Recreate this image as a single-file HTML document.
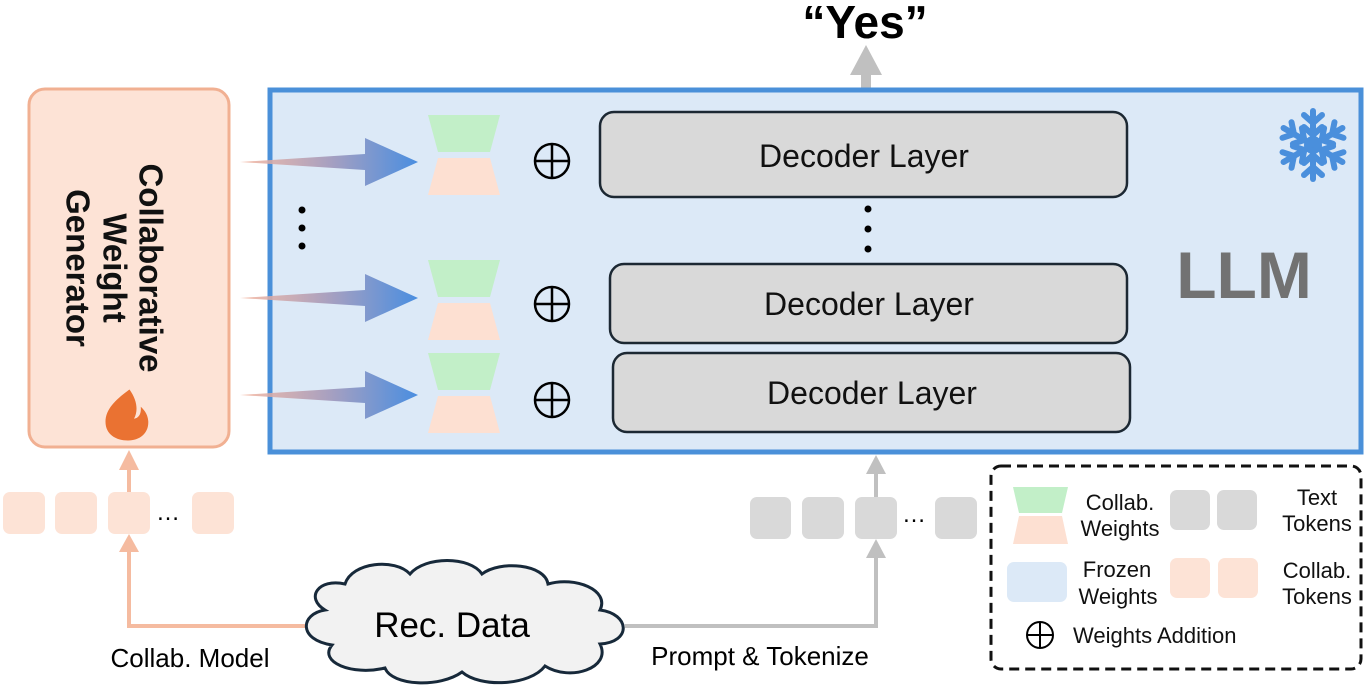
<!DOCTYPE html>
<html><head><meta charset="utf-8"><style>
html,body{margin:0;padding:0;background:#fff;}
svg{display:block;font-family:"Liberation Sans",sans-serif;}
</style></head><body>
<svg width="1367" height="688" viewBox="0 0 1367 688" xmlns="http://www.w3.org/2000/svg">
<defs>
<linearGradient id="ag" x1="0" x2="1" y1="0" y2="0">
<stop offset="0" stop-color="#f4b199" stop-opacity="0.8"/>
<stop offset="0.5" stop-color="#a8a0c0"/>
<stop offset="1" stop-color="#4a8ee0"/>
</linearGradient>
<g id="arrow"><path d="M240 0 L365 -8 L365 -24 L418 0 L365 24 L365 8 Z" fill="url(#ag)"/></g>
<g id="hg"><path d="M428 -40 L500 -40 L490 -3 L438 -3 Z" fill="#c2efc8"/><path d="M438 3 L490 3 L500 40 L428 40 Z" fill="#fde0d2"/></g>
<g id="op"><circle cx="0" cy="0" r="17" fill="none" stroke="#000" stroke-width="2.5"/><line x1="-17" y1="0" x2="17" y2="0" stroke="#000" stroke-width="2.5"/><line x1="0" y1="-17" x2="0" y2="17" stroke="#000" stroke-width="2.5"/></g>
</defs>

<text x="865" y="38" font-size="46" font-weight="bold" text-anchor="middle">“Yes”</text>
<path d="M861 90 L861 75 L850 75 L866 45 L882 75 L871 75 L871 90 Z" fill="#c0c0c0"/>

<rect x="270" y="90" width="1091" height="362" fill="#dce9f7" stroke="#4a90d9" stroke-width="5"/>

<rect x="29" y="89" width="200" height="358" rx="16" fill="#fde3d6" stroke="#f1b092" stroke-width="3"/>
<g font-weight="bold" font-size="33" fill="#111">
<text transform="translate(151,268) rotate(90)" text-anchor="middle" dominant-baseline="central">Collaborative</text>
<text transform="translate(115,268) rotate(90)" text-anchor="middle" dominant-baseline="central">Weight</text>
<text transform="translate(78,268) rotate(90)" text-anchor="middle" dominant-baseline="central">Generator</text>
</g>
<g transform="translate(128,418) scale(0.75) translate(-128,-410)">
<path d="M130 372 C112 385 98 398 98 415 C98 432 112 440 128 440 C144 440 156 430 155 414 C154 403 148 398 145 395 C146 405 142 410 136 411 C142 400 140 386 130 372 Z M126 420 C120 425 118 432 126 437 C134 434 133 425 126 420 Z" fill="#ea7232"/>
</g>

<use href="#arrow" transform="translate(0,162)"/>
<use href="#arrow" transform="translate(0,298)"/>
<use href="#arrow" transform="translate(0,395)"/>

<use href="#hg" transform="translate(0,155)"/>
<use href="#hg" transform="translate(0,300)"/>
<use href="#hg" transform="translate(0,393)"/>

<use href="#op" transform="translate(552,161)"/>
<use href="#op" transform="translate(552,304)"/>
<use href="#op" transform="translate(552,400)"/>

<circle cx="302" cy="210" r="3.5"/><circle cx="302" cy="228" r="3.5"/><circle cx="302" cy="246" r="3.5"/>
<circle cx="868" cy="209" r="3.5"/><circle cx="868" cy="229" r="3.5"/><circle cx="868" cy="249" r="3.5"/>

<g fill="#d9d9d9" stroke="#1c2833" stroke-width="2.5">
<rect x="600" y="112" width="527" height="85" rx="14"/>
<rect x="610" y="264" width="517" height="79" rx="14"/>
<rect x="613" y="353" width="517" height="79" rx="14"/>
</g>
<g font-size="32" text-anchor="middle" fill="#111">
<text x="864" y="167">Decoder Layer</text>
<text x="869" y="315">Decoder Layer</text>
<text x="872" y="404">Decoder Layer</text>
</g>

<text x="1244" y="298" font-size="66" font-weight="bold" fill="#727272" text-anchor="middle">LLM</text>
<g transform="translate(1313,145)" stroke="#4a8fdc" stroke-width="6" stroke-linecap="round" fill="none">
<g id="sfarm"><line x1="0" y1="0" x2="0" y2="-34"/><polyline points="-9,-30 0,-22 9,-30"/><polyline points="-9,-18 0,-10 9,-18"/></g>
<use href="#sfarm" transform="rotate(60)"/><use href="#sfarm" transform="rotate(120)"/><use href="#sfarm" transform="rotate(180)"/><use href="#sfarm" transform="rotate(240)"/><use href="#sfarm" transform="rotate(300)"/>
<circle cx="0" cy="0" r="6" fill="#4a8fdc"/>
</g>

<g fill="#fde3d6">
<rect x="3" y="492" width="42" height="42" rx="7"/>
<rect x="55" y="492" width="42" height="42" rx="7"/>
<rect x="108" y="492" width="42" height="42" rx="7"/>
<rect x="192" y="492" width="42" height="42" rx="7"/>
</g>
<text x="168" y="520" font-size="24" text-anchor="middle">…</text>
<g fill="#d9d9d9">
<rect x="750" y="497" width="41" height="42" rx="7"/>
<rect x="802" y="497" width="42" height="42" rx="7"/>
<rect x="855" y="497" width="42" height="42" rx="7"/>
<rect x="935" y="497" width="42" height="42" rx="7"/>
</g>
<text x="914" y="522" font-size="24" text-anchor="middle">…</text>

<polyline points="305,626 129,626 129,550" fill="none" stroke="#f5bba0" stroke-width="4"/>
<path d="M119 552 L129 534 L139 552 Z" fill="#f5bba0"/>
<line x1="129" y1="492" x2="129" y2="468" stroke="#f5bba0" stroke-width="4"/>
<path d="M119 470 L129 450 L139 470 Z" fill="#f5bba0"/>
<polyline points="625,626 876,626 876,556" fill="none" stroke="#c0c0c0" stroke-width="4"/>
<path d="M866 558 L876 539 L886 558 Z" fill="#c0c0c0"/>
<line x1="876" y1="497" x2="876" y2="472" stroke="#c0c0c0" stroke-width="4"/>
<path d="M866 474 L876 455 L886 474 Z" fill="#c0c0c0"/>

<path d="M325 610 C305 598 318 578 345 584 C352 562 395 558 410 574 C425 556 470 556 482 574 C500 560 545 564 548 584 C575 576 610 590 600 610 C630 614 632 642 600 644 C612 668 570 682 545 666 C530 686 480 688 462 672 C440 688 392 686 385 668 C352 676 318 662 332 645 C298 640 300 614 325 610 Z" fill="#f2f2f2" stroke="#17293a" stroke-width="3"/>
<text x="452" y="637" font-size="35" text-anchor="middle">Rec. Data</text>

<g font-size="26">
<text x="190" y="667" text-anchor="middle">Collab. Model</text>
<text x="760" y="665" text-anchor="middle">Prompt &amp; Tokenize</text>
</g>

<rect x="991" y="466" width="370" height="203" rx="10" fill="none" stroke="#111" stroke-width="3" stroke-dasharray="10,6"/>
<path d="M1013 487 L1068 487 L1062 513 L1019 513 Z" fill="#c2efc8"/>
<path d="M1019 516 L1062 516 L1068 544 L1013 544 Z" fill="#fde0d2"/>
<g font-size="22" fill="#111">
<text x="1120" y="510" text-anchor="middle">Collab.</text><text x="1120" y="536" text-anchor="middle">Weights</text>
<text x="1317" y="505" text-anchor="middle">Text</text><text x="1317" y="531" text-anchor="middle">Tokens</text>
<text x="1117" y="577" text-anchor="middle">Frozen</text><text x="1118" y="604" text-anchor="middle">Weights</text>
<text x="1317" y="578" text-anchor="middle">Collab.</text><text x="1317" y="604" text-anchor="middle">Tokens</text>
<text x="1073" y="643">Weights Addition</text>
</g>
<rect x="1170" y="490" width="40" height="40" rx="7" fill="#d9d9d9"/>
<rect x="1217" y="490" width="40" height="40" rx="7" fill="#d9d9d9"/>
<rect x="1007" y="562" width="60" height="40" rx="7" fill="#dce9f7"/>
<rect x="1170" y="558" width="40" height="40" rx="7" fill="#fde3d6"/>
<rect x="1218" y="558" width="40" height="40" rx="7" fill="#fde3d6"/>
<g transform="translate(1040,635)"><circle r="13" fill="none" stroke="#000" stroke-width="2"/><line x1="-13" x2="13" stroke="#000" stroke-width="2"/><line y1="-13" y2="13" stroke="#000" stroke-width="2"/></g>
</svg>
</body></html>
